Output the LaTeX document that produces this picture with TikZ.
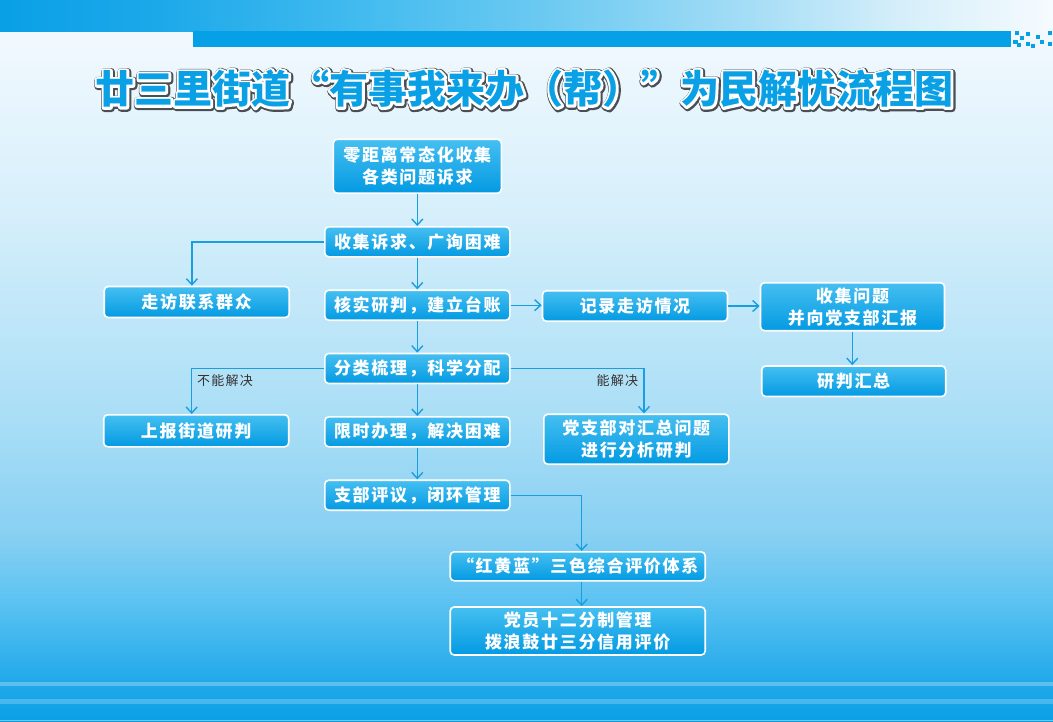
\documentclass[tikz,border=0pt]{standalone}
\usepackage{fontspec}
\setmainfont{Noto Sans CJK SC}
\newfontfamily\boxfont{Noto Sans CJK SC}[LetterSpace=10]
\newfontfamily\lblfont{Noto Sans CJK SC}[LetterSpace=10]
\newfontfamily\titlefont{Noto Sans CJK SC}
\usetikzlibrary{arrows.meta}

\definecolor{lineblue}{HTML}{1A9EE2}
\definecolor{nodetop}{HTML}{45BFF1}
\definecolor{nodebot}{HTML}{039AE2}
\definecolor{titleblue}{HTML}{0AA0E6}
\definecolor{titleshadow}{HTML}{4A4F55}
\definecolor{labelgray}{HTML}{333333}
\definecolor{barblue}{HTML}{06A0E6}

\definecolor{bgA}{HTML}{0AA0E6}
\definecolor{bgB}{HTML}{22A9EA}
\definecolor{bgC}{HTML}{5CC3F2}
\definecolor{bgD}{HTML}{86CFF2}
\definecolor{bgE}{HTML}{A9DEF6}
\definecolor{bgF}{HTML}{D8F0FB}
\definecolor{bgG}{HTML}{F2F9FE}

\definecolor{tA}{HTML}{0AA0E6}
\definecolor{tB}{HTML}{1BA8E9}
\definecolor{tC}{HTML}{40BAEF}
\definecolor{tD}{HTML}{6DCAF1}
\definecolor{tE}{HTML}{A5DDF6}
\definecolor{tF}{HTML}{D5EEFA}
\definecolor{tG}{HTML}{F6FBFE}

\pgfdeclareverticalshading{bgshade}{100bp}{color(0bp)=(bgA); color(25bp)=(bgA); color(27.97bp)=(bgB); color(33.77bp)=(bgC); color(38.1bp)=(bgD); color(46.8bp)=(bgE); color(62.75bp)=(bgF); color(75bp)=(bgG); color(100bp)=(bgG)}
\pgfdeclarehorizontalshading{topshade}{100bp}{color(0bp)=(tA); color(25bp)=(tA); color(32.1bp)=(tB); color(41.6bp)=(tC); color(51.1bp)=(tD); color(60.6bp)=(tE); color(67.7bp)=(tF); color(75bp)=(tG); color(100bp)=(tG)}

\newcommand\trmode[2]{\special{pdf:literal direct #1 Tr #2 w 1 j}}
\newcommand\titletext{廿三里街道“有事我来办（帮）”为民解忧流程图}

\tikzset{
  box/.style={draw=white, line width=1.6pt, rounded corners=4pt,
    top color=nodetop, bottom color=nodebot, text=white,
    font=\boxfont\bfseries\fontsize{17}{22}\selectfont, align=center,
    inner sep=0pt},
  arr/.style={draw=lineblue, line width=1.4pt, -{Straight Barb[length=6pt,width=11pt,line width=1.4pt]}},
  lbl/.style={text=labelgray, font=\lblfont\fontsize{13}{15}\selectfont, inner sep=0pt},
  sq/.style={fill=barblue},
  ttl/.style={font=\titlefont\bfseries\fontsize{39}{44}\selectfont, inner sep=0pt}
}

\begin{document}
\begin{tikzpicture}[x=1pt,y=-1pt]
\useasboundingbox (0,0) rectangle (1053,721);
% background
\shade[shading=bgshade] (0,31) rectangle (1053,721);
\shade[shading=topshade] (0,0) rectangle (1053,31.5);
\fill[barblue] (193,31) rectangle (1011,47);
\foreach \a/\b in {1015/31,1020/35.7,1013.3/40,1016.7/43.3,1025.7/32,1025.7/42.3,1030.7/44.3,1035.7/35,1039.7/40,1048/31,1048/42}
  \fill[sq] (\a,\b) rectangle ++(4.2,4);
\fill[white,opacity=0.28] (0,682) rectangle (1053,685.5);
\fill[white,opacity=0.22] (0,699) rectangle (1053,704);
\fill[white,opacity=0.4] (0,719.5) rectangle (1053,721);

% title: dark edge, white outline, blue letters
\node[ttl, text=titleshadow] (titleshadow) at (525.3,89.9)
  {\trmode{2}{7.4}\titletext\trmode{0}{1}};
\node[ttl, text=white] (titleoutline) at (524.5,89)
  {\trmode{2}{4.8}\titletext\trmode{0}{1}};
\node[ttl, text=titleblue] (title) at (524.5,89) {\titletext};

% nodes
\node[box, minimum width=168pt, minimum height=54pt] (n1) at (417.3,166.2) {零距离常态化收集\\各类问题诉求};
\node[box, minimum width=185pt, minimum height=30pt] (n2) at (417.3,241.8) {收集诉求、广询困难};
\node[box, minimum width=185pt, minimum height=30pt] (n3) at (417.3,305.2) {核实研判，建立台账};
\node[box, minimum width=185pt, minimum height=30pt] (n4) at (417.3,368.5) {分类梳理，科学分配};
\node[box, minimum width=185pt, minimum height=30pt] (n5) at (417.3,431.8) {限时办理，解决困难};
\node[box, minimum width=185pt, minimum height=30pt] (n6) at (417.3,495.2) {支部评议，闭环管理};
\node[box, minimum width=185pt, minimum height=31pt] (n7) at (196.7,302) {走访联系群众};
\node[box, minimum width=185pt, minimum height=32pt] (n8) at (196.2,430.8) {上报街道研判};
\node[box, minimum width=185pt, minimum height=30.5pt] (n9) at (635,306) {记录走访情况};
\node[box, minimum width=184pt, minimum height=48pt] (n10) at (852.5,306.7) {收集问题\\并向党支部汇报};
\node[box, minimum width=184pt, minimum height=30.5pt] (n11) at (853.7,381.2) {研判汇总};
\node[box, minimum width=185pt, minimum height=50pt] (n12) at (636.3,439.2) {党支部对汇总问题\\进行分析研判};
\node[box, minimum width=255pt, minimum height=29pt] (n13) at (577.7,566.3) {“红黄蓝”三色综合评价体系};
\node[box, minimum width=255pt, minimum height=48pt] (n14) at (577.7,631) {党员十二分制管理\\拨浪鼓廿三分信用评价};

% labels
\node[lbl] (l1) at (225,381) {不能解决};
\node[lbl] (l2) at (617.3,381) {能解决};

% connectors
\draw[arr] (n1.south) -- (n1.south |- n2.north);
\draw[arr] (n2.south) -- (n2.south |- n3.north);
\draw[arr] (n3.south) -- (n3.south |- n4.north);
\draw[arr] (n4.south) -- (n4.south |- n5.north);
\draw[arr] (n5.south) -- (n5.south |- n6.north);
\draw[arr] (n2.west) -| ([xshift=-4.8pt]n7.north);
\draw[arr] (n4.west) -| ([xshift=-4.5pt]n8.north);
\draw[arr] (n4.east) -| ([xshift=7.7pt]n12.north);
\draw[arr] (n3.east) -- (n3.east -| n9.west);
\draw[arr] (n9.east) -- (n9.east -| n10.west);
\draw[arr] ([xshift=-0.2pt]n10.south) -- ([xshift=-0.2pt]n10.south |- n11.north);
\draw[arr] (n6.east) -| ([xshift=4pt]n13.north);
\draw[arr] ([xshift=4pt]n13.south) -- ([xshift=4pt]n14.north);
\end{tikzpicture}
\end{document}
